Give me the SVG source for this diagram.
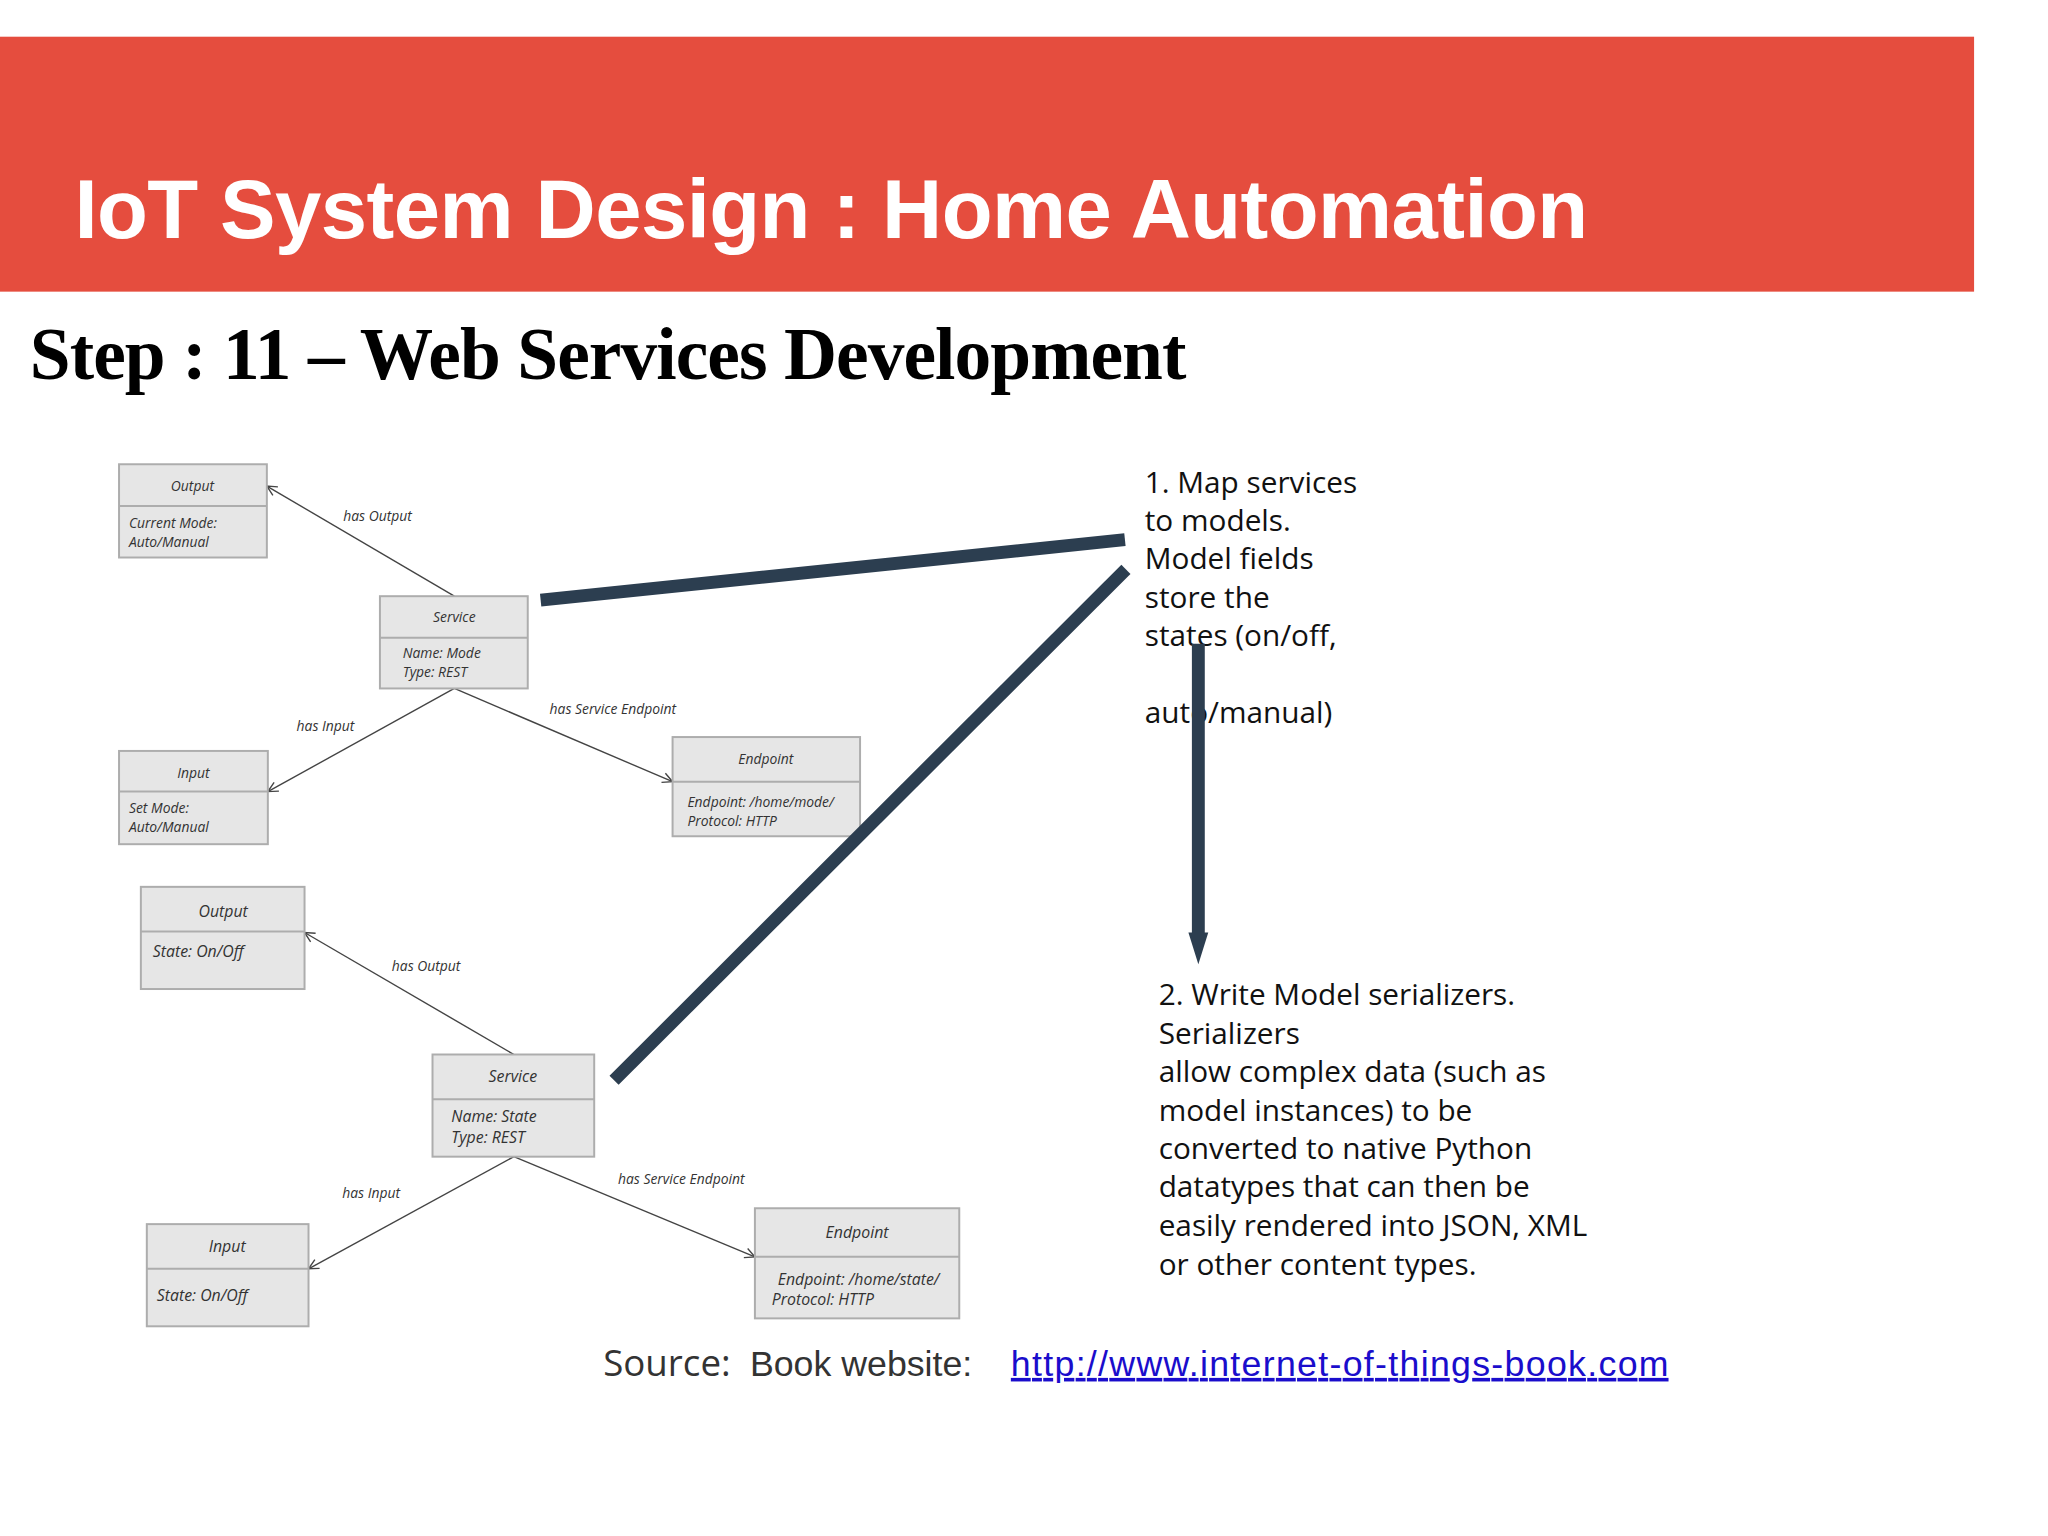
<svg xmlns="http://www.w3.org/2000/svg" width="2048" height="1536" viewBox="0 0 2048 1536" xml:space="preserve">
<defs>
<style>
.box{fill:#e6e6e6;stroke:#adadad;stroke-width:2}
.t{font-family:"Open Sans","Noto Sans",sans-serif;font-style:italic;fill:#333}
.c{stroke:#444;stroke-width:1.4;fill:none}
.lbl{font-family:"Open Sans","Noto Sans",sans-serif;font-style:italic;fill:#333;font-size:14px}
.body{font-family:"Open Sans","Noto Sans",sans-serif;font-size:30px;fill:#111}
.thick{stroke:#2c3e50;stroke-width:13;fill:none}
</style>
<marker id="oa" viewBox="0 0 12 12" refX="11" refY="6" markerWidth="12" markerHeight="12" markerUnits="userSpaceOnUse" orient="auto"><path d="M1,1 L11,6 L1,11" fill="none" stroke="#444" stroke-width="1.4"/></marker>
</defs>
<rect width="2048" height="1536" fill="#fff"/>
<g transform="scale(0.992)">
<rect x="0" y="37" width="1990" height="257" fill="#e54d3e"/>
<text x="75" y="240" font-family="Liberation Sans,Arial,sans-serif" font-weight="bold" font-size="84" fill="#fff" textLength="1526">IoT System Design : Home Automation</text>
<text x="30" y="382" font-family="Liberation Serif,Times New Roman,serif" font-weight="bold" font-size="74" fill="#000" textLength="1166">Step : 11 – Web Services Development</text>

<g id="connectors">
<line class="c" x1="458" y1="601" x2="269" y2="490" marker-end="url(#oa)"/>
<line class="c" x1="458" y1="694" x2="270" y2="798" marker-end="url(#oa)"/>
<line class="c" x1="458" y1="694" x2="678" y2="788" marker-end="url(#oa)"/>
<line class="c" x1="518" y1="1063" x2="307" y2="940" marker-end="url(#oa)"/>
<line class="c" x1="518" y1="1166" x2="311" y2="1279" marker-end="url(#oa)"/>
<line class="c" x1="518" y1="1166" x2="761" y2="1267" marker-end="url(#oa)"/>
<text class="lbl" x="346" y="525">has Output</text>
<text class="lbl" x="299" y="737">has Input</text>
<text class="lbl" x="554" y="720">has Service Endpoint</text>
<text class="lbl" x="395" y="979" font-size="16">has Output</text>
<text class="lbl" x="345" y="1208" font-size="16">has Input</text>
<text class="lbl" x="623" y="1194" font-size="16">has Service Endpoint</text>
</g>

<g id="output1"><rect class="box" x="120" y="468" width="149" height="94"/><line class="box" x1="120" y1="510" x2="269" y2="510"/>
<text class="t" x="194" y="495" font-size="14" text-anchor="middle">Output</text><text class="t" x="130" y="532" font-size="14">Current Mode:</text><text class="t" x="130" y="551" font-size="14">Auto/Manual</text></g>
<g id="service1"><rect class="box" x="383" y="601" width="149" height="93"/><line class="box" x1="383" y1="643" x2="532" y2="643"/>
<text class="t" x="458" y="627" font-size="14" text-anchor="middle">Service</text><text class="t" x="406" y="663" font-size="14">Name: Mode</text><text class="t" x="406" y="682" font-size="14">Type: REST</text></g>
<g id="input1"><rect class="box" x="120" y="757" width="150" height="94"/><line class="box" x1="120" y1="798" x2="270" y2="798"/>
<text class="t" x="195" y="784" font-size="14" text-anchor="middle">Input</text><text class="t" x="130" y="820" font-size="14">Set Mode:</text><text class="t" x="130" y="839" font-size="14">Auto/Manual</text></g>
<g id="endpoint1"><rect class="box" x="678" y="743" width="189" height="100"/><line class="box" x1="678" y1="788" x2="867" y2="788"/>
<text class="t" x="772" y="770" font-size="14" text-anchor="middle">Endpoint</text><text class="t" x="693" y="814" font-size="14">Endpoint: /home/mode/</text><text class="t" x="693" y="833" font-size="14">Protocol: HTTP</text></g>

<g id="output2"><rect class="box" x="142" y="894" width="165" height="103"/><line class="box" x1="142" y1="939" x2="307" y2="939"/>
<text class="t" x="225" y="924" font-size="16" text-anchor="middle">Output</text><text class="t" x="154" y="965" font-size="16">State: On/Off</text></g>
<g id="service2"><rect class="box" x="436" y="1063" width="163" height="103"/><line class="box" x1="436" y1="1108" x2="599" y2="1108"/>
<text class="t" x="517" y="1091" font-size="16" text-anchor="middle">Service</text><text class="t" x="455" y="1131" font-size="16">Name: State</text><text class="t" x="455" y="1152" font-size="16">Type: REST</text></g>
<g id="input2"><rect class="box" x="148" y="1234" width="163" height="103"/><line class="box" x1="148" y1="1279" x2="311" y2="1279"/>
<text class="t" x="229" y="1262" font-size="16" text-anchor="middle">Input</text><text class="t" x="158" y="1311" font-size="16">State: On/Off</text></g>
<g id="endpoint2"><rect class="box" x="761" y="1218" width="206" height="111"/><line class="box" x1="761" y1="1267" x2="967" y2="1267"/>
<text class="t" x="864" y="1248" font-size="16" text-anchor="middle">Endpoint</text><text class="t" x="784" y="1295" font-size="16">Endpoint: /home/state/</text><text class="t" x="778" y="1316" font-size="16">Protocol: HTTP</text></g>

<g id="note1" class="body">
<text x="1154" y="497">1. Map services</text>
<text x="1154" y="535">to  models.</text>
<text x="1154" y="574">Model  fields</text>
<text x="1154" y="613">store the</text>
<text x="1154" y="651">states  (on/off,</text>
<text x="1154" y="729">auto/manual)</text>
</g>
<g id="note2" class="body">
<text x="1168" y="1013">2. Write Model serializers.</text>
<text x="1168" y="1052">Serializers</text>
<text x="1168" y="1091">allow complex data (such as</text>
<text x="1168" y="1130">model  instances) to be</text>
<text x="1168" y="1168">converted to native  Python</text>
<text x="1168" y="1207">datatypes that can then be</text>
<text x="1168" y="1246">easily rendered into JSON, XML</text>
<text x="1168" y="1285">or  other content types.</text>
</g>

<g id="pointers">
<line class="thick" x1="545" y1="605" x2="1134" y2="544"/>
<line class="thick" x1="619" y1="1089" x2="1135" y2="574"/>
<line class="thick" x1="1208" y1="649" x2="1208" y2="945"/>
<path d="M1198,940 L1218,940 L1208,972 z" fill="#2c3e50"/>
</g>

<g id="source">
<text x="608" y="1387" font-family="Open Sans,Noto Sans,sans-serif" font-size="37" fill="#333">Source:</text>
<text x="756" y="1387" font-family="Liberation Sans,Arial,sans-serif" font-size="36" fill="#333">Book website:</text>
<text x="1019" y="1387" font-family="Liberation Sans,Arial,sans-serif" font-size="36" fill="#1a0dcc" text-decoration="underline" textLength="663">http://www.internet-of-things-book.com</text>
</g>
</g>
</svg>
